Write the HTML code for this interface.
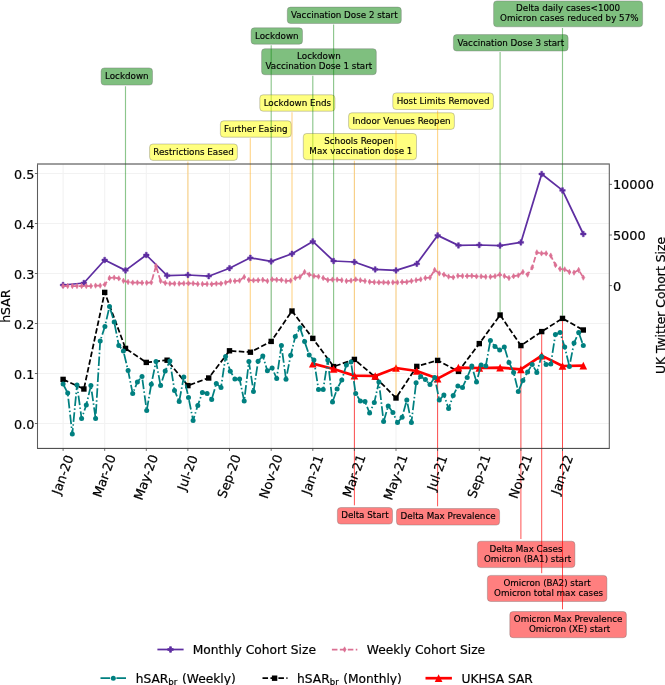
<!DOCTYPE html>
<html lang="en"><head><meta charset="utf-8"><title>hSAR timeline</title>
<style>html,body{margin:0;padding:0;background:#fff}</style></head>
<body>
<svg width="665" height="685" viewBox="0 0 665 685" style="display:block;font-family:'DejaVu Sans','Liberation Sans',sans-serif">
<rect width="665" height="685" fill="#fff"/>
<path d="M63.1 164.2V448.3M104.7 164.2V448.3M146.3 164.2V448.3M187.9 164.2V448.3M229.5 164.2V448.3M271.2 164.2V448.3M312.8 164.2V448.3M354.4 164.2V448.3M396.0 164.2V448.3M437.6 164.2V448.3M479.3 164.2V448.3M520.9 164.2V448.3M562.5 164.2V448.3M37.5 423.5H609.4M37.5 373.5H609.4M37.5 323.5H609.4M37.5 273.5H609.4M37.5 223.5H609.4M37.5 173.5H609.4" stroke="#f2f2f2" stroke-width="1.1" fill="none"/>
<polyline points="63.1,379.4 83.9,389.0 104.7,292.4 125.5,348.4 146.3,362.4 167.1,360.2 187.9,385.6 208.7,378.0 229.5,350.8 250.3,352.2 271.2,341.4 292.0,311.0 312.8,338.4 333.6,366.6 354.4,359.4 375.2,377.0 396.0,398.0 416.8,366.4 437.6,360.4 458.4,371.4 479.3,343.6 500.1,315.0 520.9,345.6 541.7,331.6 562.5,318.4 583.3,330.0" fill="none" stroke="#000" stroke-width="1.75" stroke-dasharray="5.55 2.4" stroke-linejoin="round"/>
<g fill="#000"><rect x="60.4" y="376.7" width="5.4" height="5.4"/><rect x="81.2" y="386.3" width="5.4" height="5.4"/><rect x="102.0" y="289.7" width="5.4" height="5.4"/><rect x="122.8" y="345.7" width="5.4" height="5.4"/><rect x="143.6" y="359.7" width="5.4" height="5.4"/><rect x="164.4" y="357.5" width="5.4" height="5.4"/><rect x="185.2" y="382.9" width="5.4" height="5.4"/><rect x="206.0" y="375.3" width="5.4" height="5.4"/><rect x="226.8" y="348.1" width="5.4" height="5.4"/><rect x="247.7" y="349.5" width="5.4" height="5.4"/><rect x="268.5" y="338.7" width="5.4" height="5.4"/><rect x="289.3" y="308.3" width="5.4" height="5.4"/><rect x="310.1" y="335.7" width="5.4" height="5.4"/><rect x="330.9" y="363.9" width="5.4" height="5.4"/><rect x="351.7" y="356.7" width="5.4" height="5.4"/><rect x="372.5" y="374.3" width="5.4" height="5.4"/><rect x="393.3" y="395.3" width="5.4" height="5.4"/><rect x="414.1" y="363.7" width="5.4" height="5.4"/><rect x="434.9" y="357.7" width="5.4" height="5.4"/><rect x="455.8" y="368.7" width="5.4" height="5.4"/><rect x="476.6" y="340.9" width="5.4" height="5.4"/><rect x="497.4" y="312.3" width="5.4" height="5.4"/><rect x="518.2" y="342.9" width="5.4" height="5.4"/><rect x="539.0" y="328.9" width="5.4" height="5.4"/><rect x="559.8" y="315.7" width="5.4" height="5.4"/><rect x="580.6" y="327.3" width="5.4" height="5.4"/></g>
<polyline points="312.8,363.6 333.6,369.0 354.4,375.6 375.2,376.0 396.0,368.0 416.8,371.0 437.6,378.6 458.4,367.6 479.3,368.0 500.1,367.6 520.9,369.4 541.7,355.6 562.5,366.0 583.3,365.6" fill="none" stroke="#f00" stroke-width="2.7" stroke-linejoin="round"/>
<g fill="#f00"><path d="M312.8 359.75l3.85 7.7h-7.7z"/><path d="M333.6 365.15l3.85 7.7h-7.7z"/><path d="M354.4 371.75l3.85 7.7h-7.7z"/><path d="M375.2 372.15l3.85 7.7h-7.7z"/><path d="M396.0 364.15l3.85 7.7h-7.7z"/><path d="M416.8 367.15l3.85 7.7h-7.7z"/><path d="M437.6 374.75l3.85 7.7h-7.7z"/><path d="M458.4 363.75l3.85 7.7h-7.7z"/><path d="M479.3 364.15l3.85 7.7h-7.7z"/><path d="M500.1 363.75l3.85 7.7h-7.7z"/><path d="M520.9 365.55l3.85 7.7h-7.7z"/><path d="M541.7 351.75l3.85 7.7h-7.7z"/><path d="M562.5 362.15l3.85 7.7h-7.7z"/><path d="M583.3 361.75l3.85 7.7h-7.7z"/></g>
<path d="M125.5 345.8V86.2" stroke="#008000" stroke-width="1.15" stroke-opacity="0.45"/>
<rect x="101.1" y="67.9" width="51.4" height="17.2" rx="3.3" fill="#008000" fill-opacity="0.5" stroke="#666" stroke-opacity="0.5" stroke-width="0.7"/>
<path d="M187.9 383.0V161.5" stroke="#ffa500" stroke-width="1.15" stroke-opacity="0.45"/>
<rect x="149.6" y="144.0" width="87.8" height="16.4" rx="3.3" fill="#ffff00" fill-opacity="0.5" stroke="#666" stroke-opacity="0.5" stroke-width="0.7"/>
<path d="M250.3 349.6V138.3" stroke="#ffa500" stroke-width="1.15" stroke-opacity="0.45"/>
<rect x="220.4" y="120.8" width="70.8" height="16.4" rx="3.3" fill="#ffff00" fill-opacity="0.5" stroke="#666" stroke-opacity="0.5" stroke-width="0.7"/>
<path d="M271.2 338.8V45.3" stroke="#008000" stroke-width="1.15" stroke-opacity="0.45"/>
<rect x="251.1" y="27.8" width="51.4" height="16.4" rx="3.3" fill="#008000" fill-opacity="0.5" stroke="#666" stroke-opacity="0.5" stroke-width="0.7"/>
<path d="M292.0 308.4V112.3" stroke="#ffa500" stroke-width="1.15" stroke-opacity="0.45"/>
<rect x="259.8" y="94.8" width="75.1" height="16.4" rx="3.3" fill="#ffff00" fill-opacity="0.5" stroke="#666" stroke-opacity="0.5" stroke-width="0.7"/>
<path d="M312.8 335.8V75.8" stroke="#008000" stroke-width="1.15" stroke-opacity="0.45"/>
<rect x="261.6" y="48.7" width="114.7" height="26.0" rx="3.3" fill="#008000" fill-opacity="0.5" stroke="#666" stroke-opacity="0.5" stroke-width="0.7"/>
<path d="M333.6 364.0V24.6" stroke="#008000" stroke-width="1.15" stroke-opacity="0.45"/>
<rect x="287.3" y="7.1" width="114.0" height="16.4" rx="3.3" fill="#008000" fill-opacity="0.5" stroke="#666" stroke-opacity="0.5" stroke-width="0.7"/>
<path d="M354.4 356.8V160.8" stroke="#ffa500" stroke-width="1.15" stroke-opacity="0.45"/>
<rect x="303.3" y="133.5" width="113.2" height="26.2" rx="3.3" fill="#ffff00" fill-opacity="0.5" stroke="#666" stroke-opacity="0.5" stroke-width="0.7"/>
<path d="M354.4 362.0V505.3" stroke="#ff0000" stroke-width="0.95" stroke-opacity="0.72"/>
<rect x="337.4" y="507.5" width="55.1" height="16.6" rx="3.3" fill="#ff0000" fill-opacity="0.5" stroke="#666" stroke-opacity="0.5" stroke-width="0.7"/>
<path d="M396.0 395.4V130.5" stroke="#ffa500" stroke-width="1.15" stroke-opacity="0.45"/>
<rect x="348.6" y="112.8" width="105.8" height="16.6" rx="3.3" fill="#ffff00" fill-opacity="0.5" stroke="#666" stroke-opacity="0.5" stroke-width="0.7"/>
<path d="M437.6 357.8V110.6" stroke="#ffa500" stroke-width="1.15" stroke-opacity="0.45"/>
<rect x="392.8" y="92.9" width="100.6" height="16.6" rx="3.3" fill="#ffff00" fill-opacity="0.5" stroke="#666" stroke-opacity="0.5" stroke-width="0.7"/>
<path d="M437.6 363.0V506.3" stroke="#ff0000" stroke-width="0.95" stroke-opacity="0.72"/>
<rect x="396.5" y="508.5" width="103.1" height="16.6" rx="3.3" fill="#ff0000" fill-opacity="0.5" stroke="#666" stroke-opacity="0.5" stroke-width="0.7"/>
<path d="M500.1 312.4V52.1" stroke="#008000" stroke-width="1.15" stroke-opacity="0.45"/>
<rect x="453.4" y="34.6" width="114.7" height="16.4" rx="3.3" fill="#008000" fill-opacity="0.5" stroke="#666" stroke-opacity="0.5" stroke-width="0.7"/>
<path d="M520.9 348.2V539.0" stroke="#ff0000" stroke-width="0.95" stroke-opacity="0.72"/>
<rect x="477.4" y="541.2" width="97.5" height="26.4" rx="3.3" fill="#ff0000" fill-opacity="0.5" stroke="#666" stroke-opacity="0.5" stroke-width="0.7"/>
<path d="M541.7 334.2V573.2" stroke="#ff0000" stroke-width="0.95" stroke-opacity="0.72"/>
<rect x="487.4" y="575.4" width="119.5" height="26.1" rx="3.3" fill="#ff0000" fill-opacity="0.5" stroke="#666" stroke-opacity="0.5" stroke-width="0.7"/>
<path d="M562.5 315.8V27.9" stroke="#008000" stroke-width="1.15" stroke-opacity="0.45"/>
<rect x="493.6" y="0.9" width="149.0" height="25.9" rx="3.3" fill="#008000" fill-opacity="0.5" stroke="#666" stroke-opacity="0.5" stroke-width="0.7"/>
<path d="M562.5 321.0V609.3" stroke="#ff0000" stroke-width="0.95" stroke-opacity="0.72"/>
<rect x="509.8" y="611.5" width="116.6" height="26.2" rx="3.3" fill="#ff0000" fill-opacity="0.5" stroke="#666" stroke-opacity="0.5" stroke-width="0.7"/>
<g font-size="8.75" text-anchor="middle" fill="#000" stroke="#000" stroke-width="0.15"><text x="126.8" y="79.2">Lockdown</text><text x="193.5" y="154.9">Restrictions Eased</text><text x="255.8" y="131.7">Further Easing</text><text x="276.8" y="38.7">Lockdown</text><text x="297.4" y="105.7">Lockdown Ends</text><text x="318.9" y="59.2">Lockdown</text><text x="318.9" y="69.2">Vaccination Dose 1 start</text><text x="344.3" y="18.0">Vaccination Dose 2 start</text><text x="358.9" y="144.0">Schools Reopen</text><text x="360.9" y="154.0">Max vaccination dose 1</text><text x="364.9" y="518.1">Delta Start</text><text x="401.5" y="123.8">Indoor Venues Reopen</text><text x="443.1" y="103.9">Host Limits Removed</text><text x="448.1" y="519.1">Delta Max Prevalence</text><text x="510.8" y="45.5">Vaccination Dose 3 start</text><text x="526.1" y="552.3">Delta Max Cases</text><text x="527.6" y="562.3">Omicron (BA1) start</text><text x="547.1" y="586.3">Omicron (BA2) start</text><text x="548.6" y="596.3">Omicron total max cases</text><text x="568.1" y="11.3">Delta daily cases&lt;1000</text><text x="569.3" y="21.4">Omicron cases reduced by 57%</text><text x="568.1" y="621.8">Omicron Max Prevalence</text><text x="569.6" y="631.8">Omicron (XE) start</text></g>
<polyline points="63.1,384.0 67.7,393.0 72.3,434.0 77.0,385.0 81.6,418.6 86.3,405.0 90.9,385.6 95.6,418.4 100.2,341.0 104.9,326.6 109.5,306.4 114.2,322.0 118.8,345.4 123.4,351.0 128.1,370.6 132.7,393.6 137.4,382.0 142.0,376.4 146.7,410.6 151.3,384.2 156.0,361.4 160.6,385.6 165.2,371.0 169.9,361.0 174.5,390.4 179.2,401.4 183.8,377.0 188.5,397.4 193.1,420.4 197.8,405.4 202.4,392.4 207.1,393.6 211.7,399.4 216.3,383.6 221.0,387.6 225.6,356.4 230.3,371.2 234.9,379.0 239.6,379.0 244.2,401.0 248.9,361.6 253.5,391.6 258.1,361.2 262.8,356.0 267.4,370.8 272.1,368.0 276.7,378.6 281.4,345.6 286.0,379.2 290.7,355.2 295.3,336.6 300.0,327.8 304.6,341.6 309.2,355.0 313.9,360.0 318.5,389.4 323.2,389.4 327.8,360.0 332.5,402.0 337.1,389.0 341.8,380.0 346.4,365.0 351.0,362.0 355.7,393.6 360.3,401.0 365.0,401.6 369.6,413.0 374.3,402.4 378.9,382.0 383.6,421.6 388.2,406.0 392.9,412.6 397.5,422.6 402.1,417.2 406.8,400.0 411.4,422.6 416.1,382.8 420.7,376.4 425.4,379.6 430.0,384.6 434.7,377.6 439.3,400.0 443.9,395.0 448.6,408.6 453.2,395.6 457.9,386.0 462.5,387.4 467.2,377.4 471.8,366.0 476.5,382.0 481.1,365.0 485.8,366.0 490.4,340.4 495.0,346.4 499.7,350.0 504.3,347.0 509.0,362.4 513.6,372.4 518.3,391.6 522.9,380.4 527.6,372.0 532.2,364.4 536.8,372.4 541.5,356.4 546.1,364.4 550.8,364.0 555.4,334.4 560.1,332.6 564.7,347.0 569.4,366.4 574.0,343.0 578.7,332.6 583.3,345.6" fill="none" stroke="#008080" stroke-width="1.75" stroke-dasharray="9.6 2.4 1.5 2.4" stroke-linejoin="round"/>
<g fill="#008080"><circle cx="63.1" cy="384.0" r="2.5"/><circle cx="67.7" cy="393.0" r="2.5"/><circle cx="72.3" cy="434.0" r="2.5"/><circle cx="77.0" cy="385.0" r="2.5"/><circle cx="81.6" cy="418.6" r="2.5"/><circle cx="86.3" cy="405.0" r="2.5"/><circle cx="90.9" cy="385.6" r="2.5"/><circle cx="95.6" cy="418.4" r="2.5"/><circle cx="100.2" cy="341.0" r="2.5"/><circle cx="104.9" cy="326.6" r="2.5"/><circle cx="109.5" cy="306.4" r="2.5"/><circle cx="114.2" cy="322.0" r="2.5"/><circle cx="118.8" cy="345.4" r="2.5"/><circle cx="123.4" cy="351.0" r="2.5"/><circle cx="128.1" cy="370.6" r="2.5"/><circle cx="132.7" cy="393.6" r="2.5"/><circle cx="137.4" cy="382.0" r="2.5"/><circle cx="142.0" cy="376.4" r="2.5"/><circle cx="146.7" cy="410.6" r="2.5"/><circle cx="151.3" cy="384.2" r="2.5"/><circle cx="156.0" cy="361.4" r="2.5"/><circle cx="160.6" cy="385.6" r="2.5"/><circle cx="165.2" cy="371.0" r="2.5"/><circle cx="169.9" cy="361.0" r="2.5"/><circle cx="174.5" cy="390.4" r="2.5"/><circle cx="179.2" cy="401.4" r="2.5"/><circle cx="183.8" cy="377.0" r="2.5"/><circle cx="188.5" cy="397.4" r="2.5"/><circle cx="193.1" cy="420.4" r="2.5"/><circle cx="197.8" cy="405.4" r="2.5"/><circle cx="202.4" cy="392.4" r="2.5"/><circle cx="207.1" cy="393.6" r="2.5"/><circle cx="211.7" cy="399.4" r="2.5"/><circle cx="216.3" cy="383.6" r="2.5"/><circle cx="221.0" cy="387.6" r="2.5"/><circle cx="225.6" cy="356.4" r="2.5"/><circle cx="230.3" cy="371.2" r="2.5"/><circle cx="234.9" cy="379.0" r="2.5"/><circle cx="239.6" cy="379.0" r="2.5"/><circle cx="244.2" cy="401.0" r="2.5"/><circle cx="248.9" cy="361.6" r="2.5"/><circle cx="253.5" cy="391.6" r="2.5"/><circle cx="258.1" cy="361.2" r="2.5"/><circle cx="262.8" cy="356.0" r="2.5"/><circle cx="267.4" cy="370.8" r="2.5"/><circle cx="272.1" cy="368.0" r="2.5"/><circle cx="276.7" cy="378.6" r="2.5"/><circle cx="281.4" cy="345.6" r="2.5"/><circle cx="286.0" cy="379.2" r="2.5"/><circle cx="290.7" cy="355.2" r="2.5"/><circle cx="295.3" cy="336.6" r="2.5"/><circle cx="300.0" cy="327.8" r="2.5"/><circle cx="304.6" cy="341.6" r="2.5"/><circle cx="309.2" cy="355.0" r="2.5"/><circle cx="313.9" cy="360.0" r="2.5"/><circle cx="318.5" cy="389.4" r="2.5"/><circle cx="323.2" cy="389.4" r="2.5"/><circle cx="327.8" cy="360.0" r="2.5"/><circle cx="332.5" cy="402.0" r="2.5"/><circle cx="337.1" cy="389.0" r="2.5"/><circle cx="341.8" cy="380.0" r="2.5"/><circle cx="346.4" cy="365.0" r="2.5"/><circle cx="351.0" cy="362.0" r="2.5"/><circle cx="355.7" cy="393.6" r="2.5"/><circle cx="360.3" cy="401.0" r="2.5"/><circle cx="365.0" cy="401.6" r="2.5"/><circle cx="369.6" cy="413.0" r="2.5"/><circle cx="374.3" cy="402.4" r="2.5"/><circle cx="378.9" cy="382.0" r="2.5"/><circle cx="383.6" cy="421.6" r="2.5"/><circle cx="388.2" cy="406.0" r="2.5"/><circle cx="392.9" cy="412.6" r="2.5"/><circle cx="397.5" cy="422.6" r="2.5"/><circle cx="402.1" cy="417.2" r="2.5"/><circle cx="406.8" cy="400.0" r="2.5"/><circle cx="411.4" cy="422.6" r="2.5"/><circle cx="416.1" cy="382.8" r="2.5"/><circle cx="420.7" cy="376.4" r="2.5"/><circle cx="425.4" cy="379.6" r="2.5"/><circle cx="430.0" cy="384.6" r="2.5"/><circle cx="434.7" cy="377.6" r="2.5"/><circle cx="439.3" cy="400.0" r="2.5"/><circle cx="443.9" cy="395.0" r="2.5"/><circle cx="448.6" cy="408.6" r="2.5"/><circle cx="453.2" cy="395.6" r="2.5"/><circle cx="457.9" cy="386.0" r="2.5"/><circle cx="462.5" cy="387.4" r="2.5"/><circle cx="467.2" cy="377.4" r="2.5"/><circle cx="471.8" cy="366.0" r="2.5"/><circle cx="476.5" cy="382.0" r="2.5"/><circle cx="481.1" cy="365.0" r="2.5"/><circle cx="485.8" cy="366.0" r="2.5"/><circle cx="490.4" cy="340.4" r="2.5"/><circle cx="495.0" cy="346.4" r="2.5"/><circle cx="499.7" cy="350.0" r="2.5"/><circle cx="504.3" cy="347.0" r="2.5"/><circle cx="509.0" cy="362.4" r="2.5"/><circle cx="513.6" cy="372.4" r="2.5"/><circle cx="518.3" cy="391.6" r="2.5"/><circle cx="522.9" cy="380.4" r="2.5"/><circle cx="527.6" cy="372.0" r="2.5"/><circle cx="532.2" cy="364.4" r="2.5"/><circle cx="536.8" cy="372.4" r="2.5"/><circle cx="541.5" cy="356.4" r="2.5"/><circle cx="546.1" cy="364.4" r="2.5"/><circle cx="550.8" cy="364.0" r="2.5"/><circle cx="555.4" cy="334.4" r="2.5"/><circle cx="560.1" cy="332.6" r="2.5"/><circle cx="564.7" cy="347.0" r="2.5"/><circle cx="569.4" cy="366.4" r="2.5"/><circle cx="574.0" cy="343.0" r="2.5"/><circle cx="578.7" cy="332.6" r="2.5"/><circle cx="583.3" cy="345.6" r="2.5"/></g>
<polyline points="63.1,285.0 83.9,283.0 104.7,260.0 125.5,270.4 146.3,255.0 167.1,275.6 187.9,275.0 208.7,276.2 229.5,268.2 250.3,257.8 271.2,261.4 292.0,253.8 312.8,241.4 333.6,261.0 354.4,262.0 375.2,269.4 396.0,270.4 416.8,263.8 437.6,235.4 458.4,245.4 479.3,245.0 500.1,245.6 520.9,242.4 541.7,174.0 562.5,190.4 583.3,234.0" fill="none" stroke="#5e2ea1" stroke-width="1.75" stroke-linejoin="round"/>
<path d="M62.14 282.25h1.83v1.83h1.83v1.83h-1.83v1.83h-1.83v-1.83h-1.83v-1.83h1.83zM82.95 280.25h1.83v1.83h1.83v1.83h-1.83v1.83h-1.83v-1.83h-1.83v-1.83h1.83zM103.76 257.25h1.83v1.83h1.83v1.83h-1.83v1.83h-1.83v-1.83h-1.83v-1.83h1.83zM124.57 267.65h1.83v1.83h1.83v1.83h-1.83v1.83h-1.83v-1.83h-1.83v-1.83h1.83zM145.38 252.25h1.83v1.83h1.83v1.83h-1.83v1.83h-1.83v-1.83h-1.83v-1.83h1.83zM166.19 272.85h1.83v1.83h1.83v1.83h-1.83v1.83h-1.83v-1.83h-1.83v-1.83h1.83zM187.00 272.25h1.83v1.83h1.83v1.83h-1.83v1.83h-1.83v-1.83h-1.83v-1.83h1.83zM207.81 273.45h1.83v1.83h1.83v1.83h-1.83v1.83h-1.83v-1.83h-1.83v-1.83h1.83zM228.62 265.45h1.83v1.83h1.83v1.83h-1.83v1.83h-1.83v-1.83h-1.83v-1.83h1.83zM249.43 255.05h1.83v1.83h1.83v1.83h-1.83v1.83h-1.83v-1.83h-1.83v-1.83h1.83zM270.24 258.65h1.83v1.83h1.83v1.83h-1.83v1.83h-1.83v-1.83h-1.83v-1.83h1.83zM291.05 251.05h1.83v1.83h1.83v1.83h-1.83v1.83h-1.83v-1.83h-1.83v-1.83h1.83zM311.86 238.65h1.83v1.83h1.83v1.83h-1.83v1.83h-1.83v-1.83h-1.83v-1.83h1.83zM332.67 258.25h1.83v1.83h1.83v1.83h-1.83v1.83h-1.83v-1.83h-1.83v-1.83h1.83zM353.48 259.25h1.83v1.83h1.83v1.83h-1.83v1.83h-1.83v-1.83h-1.83v-1.83h1.83zM374.29 266.65h1.83v1.83h1.83v1.83h-1.83v1.83h-1.83v-1.83h-1.83v-1.83h1.83zM395.10 267.65h1.83v1.83h1.83v1.83h-1.83v1.83h-1.83v-1.83h-1.83v-1.83h1.83zM415.91 261.05h1.83v1.83h1.83v1.83h-1.83v1.83h-1.83v-1.83h-1.83v-1.83h1.83zM436.72 232.65h1.83v1.83h1.83v1.83h-1.83v1.83h-1.83v-1.83h-1.83v-1.83h1.83zM457.53 242.65h1.83v1.83h1.83v1.83h-1.83v1.83h-1.83v-1.83h-1.83v-1.83h1.83zM478.34 242.25h1.83v1.83h1.83v1.83h-1.83v1.83h-1.83v-1.83h-1.83v-1.83h1.83zM499.15 242.85h1.83v1.83h1.83v1.83h-1.83v1.83h-1.83v-1.83h-1.83v-1.83h1.83zM519.96 239.65h1.83v1.83h1.83v1.83h-1.83v1.83h-1.83v-1.83h-1.83v-1.83h1.83zM540.77 171.25h1.83v1.83h1.83v1.83h-1.83v1.83h-1.83v-1.83h-1.83v-1.83h1.83zM561.58 187.65h1.83v1.83h1.83v1.83h-1.83v1.83h-1.83v-1.83h-1.83v-1.83h1.83zM582.39 231.25h1.83v1.83h1.83v1.83h-1.83v1.83h-1.83v-1.83h-1.83v-1.83h1.83z" fill="#5e2ea1" stroke="#5e2ea1" stroke-width="0.5" stroke-linejoin="miter"/>
<polyline points="63.1,286.0 67.7,286.0 72.3,286.0 77.0,286.0 81.6,286.0 86.3,286.0 90.9,286.0 95.6,285.6 100.2,285.6 104.9,284.4 109.5,278.0 114.2,277.6 118.8,278.4 123.4,280.8 128.1,282.0 132.7,282.6 137.4,282.6 142.0,282.8 146.7,282.8 151.3,282.4 156.0,266.0 160.6,281.0 165.2,283.0 169.9,283.6 174.5,283.6 179.2,283.6 183.8,283.4 188.5,283.4 193.1,283.4 197.8,284.0 202.4,284.0 207.1,284.0 211.7,284.2 216.3,283.6 221.0,283.6 225.6,282.6 230.3,281.0 234.9,281.0 239.6,280.6 244.2,277.0 248.9,280.0 253.5,280.4 258.1,280.2 262.8,279.8 267.4,281.0 272.1,279.4 276.7,279.8 281.4,280.0 286.0,281.0 290.7,280.6 295.3,278.0 300.0,277.0 304.6,272.0 309.2,274.6 313.9,276.0 318.5,276.6 323.2,278.0 327.8,280.0 332.5,279.6 337.1,279.6 341.8,280.2 346.4,281.0 351.0,280.6 355.7,279.4 360.3,280.2 365.0,281.0 369.6,281.8 374.3,282.2 378.9,282.4 383.6,282.4 388.2,282.6 392.9,282.4 397.5,282.4 402.1,282.0 406.8,282.0 411.4,281.0 416.1,280.2 420.7,279.4 425.4,278.0 430.0,277.6 434.7,270.0 439.3,273.4 443.9,274.6 448.6,276.6 453.2,277.4 457.9,275.8 462.5,276.0 467.2,276.0 471.8,275.8 476.5,276.4 481.1,276.4 485.8,276.8 490.4,276.8 495.0,276.2 499.7,274.6 504.3,276.0 509.0,278.0 513.6,276.2 518.3,275.4 522.9,272.0 527.6,274.6 532.2,267.4 536.8,252.4 541.5,253.4 546.1,253.4 550.8,255.6 555.4,265.0 560.1,269.0 564.7,269.4 569.4,272.0 574.0,272.6 578.7,270.0 583.3,277.6" fill="none" stroke="#db7093" stroke-width="1.75" stroke-dasharray="5.55 2.4" stroke-linejoin="round"/>
<path d="M63.06 283.30l1.5 2.7l-1.5 2.7l-1.5 -2.7zM67.70 283.30l1.5 2.7l-1.5 2.7l-1.5 -2.7zM72.35 283.30l1.5 2.7l-1.5 2.7l-1.5 -2.7zM77.00 283.30l1.5 2.7l-1.5 2.7l-1.5 -2.7zM81.64 283.30l1.5 2.7l-1.5 2.7l-1.5 -2.7zM86.28 283.30l1.5 2.7l-1.5 2.7l-1.5 -2.7zM90.93 283.30l1.5 2.7l-1.5 2.7l-1.5 -2.7zM95.58 282.90l1.5 2.7l-1.5 2.7l-1.5 -2.7zM100.22 282.90l1.5 2.7l-1.5 2.7l-1.5 -2.7zM104.86 281.70l1.5 2.7l-1.5 2.7l-1.5 -2.7zM109.51 275.30l1.5 2.7l-1.5 2.7l-1.5 -2.7zM114.16 274.90l1.5 2.7l-1.5 2.7l-1.5 -2.7zM118.80 275.70l1.5 2.7l-1.5 2.7l-1.5 -2.7zM123.44 278.10l1.5 2.7l-1.5 2.7l-1.5 -2.7zM128.09 279.30l1.5 2.7l-1.5 2.7l-1.5 -2.7zM132.74 279.90l1.5 2.7l-1.5 2.7l-1.5 -2.7zM137.38 279.90l1.5 2.7l-1.5 2.7l-1.5 -2.7zM142.02 280.10l1.5 2.7l-1.5 2.7l-1.5 -2.7zM146.67 280.10l1.5 2.7l-1.5 2.7l-1.5 -2.7zM151.31 279.70l1.5 2.7l-1.5 2.7l-1.5 -2.7zM155.96 263.30l1.5 2.7l-1.5 2.7l-1.5 -2.7zM160.60 278.30l1.5 2.7l-1.5 2.7l-1.5 -2.7zM165.25 280.30l1.5 2.7l-1.5 2.7l-1.5 -2.7zM169.89 280.90l1.5 2.7l-1.5 2.7l-1.5 -2.7zM174.54 280.90l1.5 2.7l-1.5 2.7l-1.5 -2.7zM179.19 280.90l1.5 2.7l-1.5 2.7l-1.5 -2.7zM183.83 280.70l1.5 2.7l-1.5 2.7l-1.5 -2.7zM188.47 280.70l1.5 2.7l-1.5 2.7l-1.5 -2.7zM193.12 280.70l1.5 2.7l-1.5 2.7l-1.5 -2.7zM197.76 281.30l1.5 2.7l-1.5 2.7l-1.5 -2.7zM202.41 281.30l1.5 2.7l-1.5 2.7l-1.5 -2.7zM207.05 281.30l1.5 2.7l-1.5 2.7l-1.5 -2.7zM211.70 281.50l1.5 2.7l-1.5 2.7l-1.5 -2.7zM216.34 280.90l1.5 2.7l-1.5 2.7l-1.5 -2.7zM220.99 280.90l1.5 2.7l-1.5 2.7l-1.5 -2.7zM225.63 279.90l1.5 2.7l-1.5 2.7l-1.5 -2.7zM230.28 278.30l1.5 2.7l-1.5 2.7l-1.5 -2.7zM234.92 278.30l1.5 2.7l-1.5 2.7l-1.5 -2.7zM239.57 277.90l1.5 2.7l-1.5 2.7l-1.5 -2.7zM244.21 274.30l1.5 2.7l-1.5 2.7l-1.5 -2.7zM248.86 277.30l1.5 2.7l-1.5 2.7l-1.5 -2.7zM253.50 277.70l1.5 2.7l-1.5 2.7l-1.5 -2.7zM258.15 277.50l1.5 2.7l-1.5 2.7l-1.5 -2.7zM262.79 277.10l1.5 2.7l-1.5 2.7l-1.5 -2.7zM267.44 278.30l1.5 2.7l-1.5 2.7l-1.5 -2.7zM272.08 276.70l1.5 2.7l-1.5 2.7l-1.5 -2.7zM276.73 277.10l1.5 2.7l-1.5 2.7l-1.5 -2.7zM281.38 277.30l1.5 2.7l-1.5 2.7l-1.5 -2.7zM286.02 278.30l1.5 2.7l-1.5 2.7l-1.5 -2.7zM290.66 277.90l1.5 2.7l-1.5 2.7l-1.5 -2.7zM295.31 275.30l1.5 2.7l-1.5 2.7l-1.5 -2.7zM299.95 274.30l1.5 2.7l-1.5 2.7l-1.5 -2.7zM304.60 269.30l1.5 2.7l-1.5 2.7l-1.5 -2.7zM309.25 271.90l1.5 2.7l-1.5 2.7l-1.5 -2.7zM313.89 273.30l1.5 2.7l-1.5 2.7l-1.5 -2.7zM318.53 273.90l1.5 2.7l-1.5 2.7l-1.5 -2.7zM323.18 275.30l1.5 2.7l-1.5 2.7l-1.5 -2.7zM327.82 277.30l1.5 2.7l-1.5 2.7l-1.5 -2.7zM332.47 276.90l1.5 2.7l-1.5 2.7l-1.5 -2.7zM337.11 276.90l1.5 2.7l-1.5 2.7l-1.5 -2.7zM341.76 277.50l1.5 2.7l-1.5 2.7l-1.5 -2.7zM346.40 278.30l1.5 2.7l-1.5 2.7l-1.5 -2.7zM351.05 277.90l1.5 2.7l-1.5 2.7l-1.5 -2.7zM355.69 276.70l1.5 2.7l-1.5 2.7l-1.5 -2.7zM360.34 277.50l1.5 2.7l-1.5 2.7l-1.5 -2.7zM364.98 278.30l1.5 2.7l-1.5 2.7l-1.5 -2.7zM369.63 279.10l1.5 2.7l-1.5 2.7l-1.5 -2.7zM374.27 279.50l1.5 2.7l-1.5 2.7l-1.5 -2.7zM378.92 279.70l1.5 2.7l-1.5 2.7l-1.5 -2.7zM383.56 279.70l1.5 2.7l-1.5 2.7l-1.5 -2.7zM388.21 279.90l1.5 2.7l-1.5 2.7l-1.5 -2.7zM392.85 279.70l1.5 2.7l-1.5 2.7l-1.5 -2.7zM397.50 279.70l1.5 2.7l-1.5 2.7l-1.5 -2.7zM402.14 279.30l1.5 2.7l-1.5 2.7l-1.5 -2.7zM406.79 279.30l1.5 2.7l-1.5 2.7l-1.5 -2.7zM411.43 278.30l1.5 2.7l-1.5 2.7l-1.5 -2.7zM416.08 277.50l1.5 2.7l-1.5 2.7l-1.5 -2.7zM420.72 276.70l1.5 2.7l-1.5 2.7l-1.5 -2.7zM425.37 275.30l1.5 2.7l-1.5 2.7l-1.5 -2.7zM430.01 274.90l1.5 2.7l-1.5 2.7l-1.5 -2.7zM434.66 267.30l1.5 2.7l-1.5 2.7l-1.5 -2.7zM439.30 270.70l1.5 2.7l-1.5 2.7l-1.5 -2.7zM443.95 271.90l1.5 2.7l-1.5 2.7l-1.5 -2.7zM448.59 273.90l1.5 2.7l-1.5 2.7l-1.5 -2.7zM453.24 274.70l1.5 2.7l-1.5 2.7l-1.5 -2.7zM457.88 273.10l1.5 2.7l-1.5 2.7l-1.5 -2.7zM462.53 273.30l1.5 2.7l-1.5 2.7l-1.5 -2.7zM467.17 273.30l1.5 2.7l-1.5 2.7l-1.5 -2.7zM471.82 273.10l1.5 2.7l-1.5 2.7l-1.5 -2.7zM476.46 273.70l1.5 2.7l-1.5 2.7l-1.5 -2.7zM481.11 273.70l1.5 2.7l-1.5 2.7l-1.5 -2.7zM485.75 274.10l1.5 2.7l-1.5 2.7l-1.5 -2.7zM490.40 274.10l1.5 2.7l-1.5 2.7l-1.5 -2.7zM495.04 273.50l1.5 2.7l-1.5 2.7l-1.5 -2.7zM499.69 271.90l1.5 2.7l-1.5 2.7l-1.5 -2.7zM504.33 273.30l1.5 2.7l-1.5 2.7l-1.5 -2.7zM508.98 275.30l1.5 2.7l-1.5 2.7l-1.5 -2.7zM513.62 273.50l1.5 2.7l-1.5 2.7l-1.5 -2.7zM518.27 272.70l1.5 2.7l-1.5 2.7l-1.5 -2.7zM522.91 269.30l1.5 2.7l-1.5 2.7l-1.5 -2.7zM527.56 271.90l1.5 2.7l-1.5 2.7l-1.5 -2.7zM532.20 264.70l1.5 2.7l-1.5 2.7l-1.5 -2.7zM536.85 249.70l1.5 2.7l-1.5 2.7l-1.5 -2.7zM541.49 250.70l1.5 2.7l-1.5 2.7l-1.5 -2.7zM546.14 250.70l1.5 2.7l-1.5 2.7l-1.5 -2.7zM550.78 252.90l1.5 2.7l-1.5 2.7l-1.5 -2.7zM555.43 262.30l1.5 2.7l-1.5 2.7l-1.5 -2.7zM560.07 266.30l1.5 2.7l-1.5 2.7l-1.5 -2.7zM564.72 266.70l1.5 2.7l-1.5 2.7l-1.5 -2.7zM569.37 269.30l1.5 2.7l-1.5 2.7l-1.5 -2.7zM574.01 269.90l1.5 2.7l-1.5 2.7l-1.5 -2.7zM578.65 267.30l1.5 2.7l-1.5 2.7l-1.5 -2.7zM583.30 274.90l1.5 2.7l-1.5 2.7l-1.5 -2.7z" fill="#db7093" stroke="#db7093" stroke-width="0.6"/>
<path d="M37.0 164.0H609.8M37.0 448.4H609.8" stroke="#3c3c3c" stroke-width="1" fill="none"/>
<path d="M609.3 164.2V448.3M37.5 164.2V448.3" stroke="#5c5c5c" stroke-width="1.05" fill="none"/>
<path d="M34.9 423.5h2.6M34.9 373.5h2.6M34.9 323.5h2.6M34.9 273.5h2.6M34.9 223.5h2.6M34.9 173.5h2.6M609.4 285.6h2.6M609.4 235h2.6M609.4 184.4h2.6M63.1 448.3v2.6M104.7 448.3v2.6M146.3 448.3v2.6M187.9 448.3v2.6M229.5 448.3v2.6M271.2 448.3v2.6M312.8 448.3v2.6M354.4 448.3v2.6M396.0 448.3v2.6M437.6 448.3v2.6M479.3 448.3v2.6M520.9 448.3v2.6M562.5 448.3v2.6" stroke="#444" stroke-width="0.8" fill="none"/>
<g font-size="12.8" fill="#000" stroke="#000" stroke-width="0.2"><text x="34.4" y="428.5" text-anchor="end">0.0</text><text x="34.4" y="378.5" text-anchor="end">0.1</text><text x="34.4" y="328.5" text-anchor="end">0.2</text><text x="34.4" y="278.5" text-anchor="end">0.3</text><text x="34.4" y="228.5" text-anchor="end">0.4</text><text x="34.4" y="178.5" text-anchor="end">0.5</text><text x="612.9" y="290.5" font-size="12.95">0</text><text x="612.9" y="239.9" font-size="12.95">5000</text><text x="612.9" y="189.3" font-size="12.95">10000</text><text transform="translate(62.5 474.7) rotate(-70)" text-anchor="middle" y="4.7">Jan-20</text><text transform="translate(104.1 475.8) rotate(-70)" text-anchor="middle" y="4.7">Mar-20</text><text transform="translate(145.7 477.2) rotate(-70)" text-anchor="middle" y="4.7">May-20</text><text transform="translate(187.3 472.7) rotate(-70)" text-anchor="middle" y="4.7">Jul-20</text><text transform="translate(228.9 476.2) rotate(-70)" text-anchor="middle" y="4.7">Sep-20</text><text transform="translate(270.6 476.4) rotate(-70)" text-anchor="middle" y="4.7">Nov-20</text><text transform="translate(312.2 474.7) rotate(-70)" text-anchor="middle" y="4.7">Jan-21</text><text transform="translate(353.8 475.8) rotate(-70)" text-anchor="middle" y="4.7">Mar-21</text><text transform="translate(395.4 477.2) rotate(-70)" text-anchor="middle" y="4.7">May-21</text><text transform="translate(437.0 472.7) rotate(-70)" text-anchor="middle" y="4.7">Jul-21</text><text transform="translate(478.7 476.2) rotate(-70)" text-anchor="middle" y="4.7">Sep-21</text><text transform="translate(520.3 476.4) rotate(-70)" text-anchor="middle" y="4.7">Nov-21</text><text transform="translate(561.9 474.7) rotate(-70)" text-anchor="middle" y="4.7">Jan-22</text><text transform="translate(9.5 306.2) rotate(-90)" text-anchor="middle" font-size="12.5">hSAR</text><text transform="translate(664.6 305.5) rotate(-90)" text-anchor="middle" font-size="12.35">UK Twitter Cohort Size</text></g>
<g font-size="12.25" fill="#000" stroke-width="0.2"><path d="M157.4 649.5h26.2" stroke="#5e2ea1" stroke-width="1.75"/><path d="M169.58 646.75h1.83v1.83h1.83v1.83h-1.83v1.83h-1.83v-1.83h-1.83v-1.83h1.83z" fill="#5e2ea1" stroke="#5e2ea1" stroke-width="0.8"/><text stroke="#000" x="192.8" y="653.8">Monthly Cohort Size</text><path d="M331.9 649.5h25.4" stroke="#db7093" stroke-width="1.75" stroke-dasharray="5.55 2.4"/><path d="M344.60 646.80l1.5 2.7l-1.5 2.7l-1.5 -2.7z" fill="#db7093" stroke="#db7093" stroke-width="0.6"/><text stroke="#000" x="366.8" y="653.8">Weekly Cohort Size</text><path d="M100.5 678.2h25.7" stroke="#008080" stroke-width="1.75" stroke-dasharray="9.6 2.4 1.5 2.4"/><circle cx="113.3" cy="678.2" r="2.5" fill="#008080"/><text stroke="#000" x="135.7" y="682.5">hSAR<tspan font-size="8.6" dy="2.4">br</tspan><tspan dy="-2.4" dx="0.7"> (Weekly)</tspan></text><path d="M262.5 678.2h25" stroke="#000" stroke-width="1.75" stroke-dasharray="5.55 2.4"/><rect x="271.9" y="675.5" width="5.4" height="5.4"/><text stroke="#000" x="297.0" y="682.5">hSAR<tspan font-size="8.6" dy="2.4">br</tspan><tspan dy="-2.4" dx="0.7"> (Monthly)</tspan></text><path d="M425.5 678.2h26.4" stroke="#f00" stroke-width="2.7"/><path d="M438.6 674.35l3.85 7.7h-7.7z" fill="#f00"/><text stroke="#000" x="461.5" y="682.5">UKHSA SAR</text></g>
</svg>
</body></html>
